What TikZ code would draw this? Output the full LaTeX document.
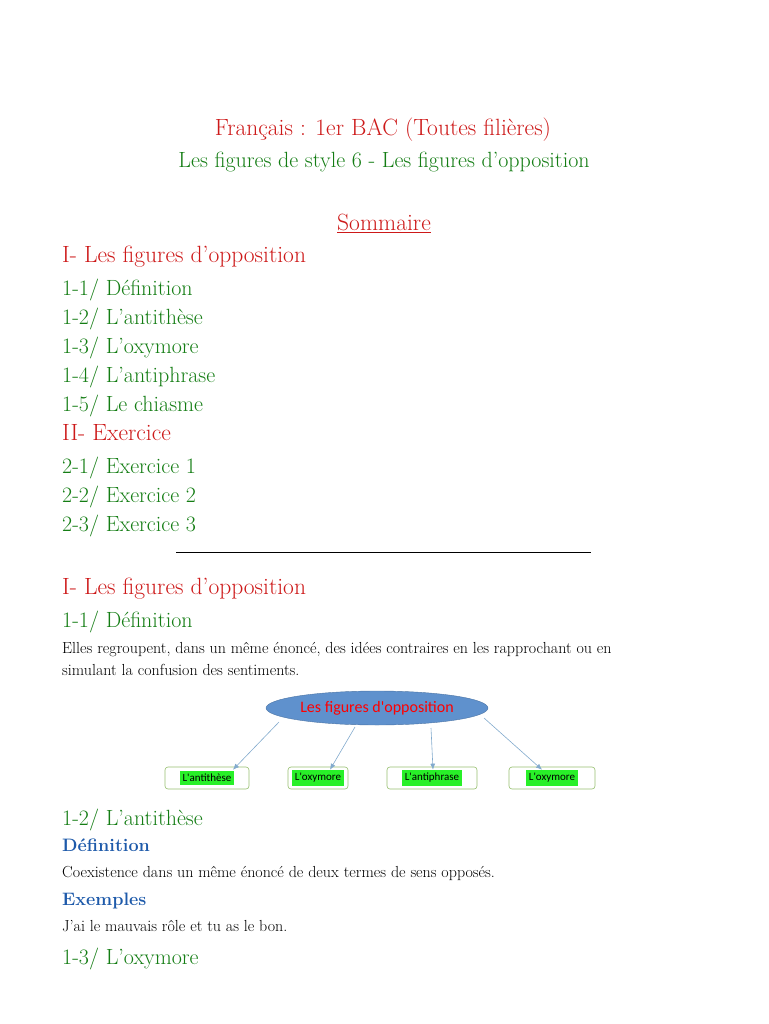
\documentclass[tikz,border=0pt]{standalone}
\usepackage{fontspec}
\newfontfamily\calibri{Carlito}
\usetikzlibrary{shapes.geometric,arrows.meta}
\definecolor{titred}{RGB}{205,25,25}
\definecolor{titgreen}{RGB}{20,125,20}
\definecolor{titblue}{RGB}{30,90,170}
\definecolor{ovalblue}{RGB}{95,145,205}
\definecolor{arrowblue}{RGB}{130,170,205}
\definecolor{boxgreen}{RGB}{150,190,110}
\definecolor{hilite}{RGB}{40,240,40}
\tikzstyle{big} = [anchor=base west, inner sep=0pt, font=\fontsize{23.5}{26}\selectfont]
\tikzstyle{mid} = [anchor=base west, inner sep=0pt, font=\fontsize{22}{24}\selectfont, text=titgreen]
\tikzstyle{body} = [anchor=base west, inner sep=0pt, font=\fontsize{16}{18}\selectfont]
\tikzstyle{fig} = [draw=boxgreen, rounded corners=3pt, minimum height=22pt, line width=0.6pt, font=\calibri\fontsize{11}{12}\selectfont]
\tikzstyle{link} = [draw=arrowblue, -{Latex[length=6pt,width=5pt]}, line width=0.6pt]
\begin{document}
\begin{tikzpicture}[x=1pt,y=-1pt]
\useasboundingbox (0,0) rectangle (768,1024);
% en-tete
\node[big, anchor=base, text=titred] (titre) at (383,136) {Français : 1er BAC (Toutes filières)};
\node[mid, anchor=base] (soustitre) at (384,168) {Les figures de style 6 - Les figures d'opposition};
\node[big, anchor=base, text=titred] (sommaire) at (384,230) {\underline{Sommaire}};
% sommaire
\node[big, text=titred] (s1) at (62,262) {I- Les figures d'opposition};
\node[mid] (s11) at (62,295) {1-1/ Définition};
\node[mid] (s12) at (62,324) {1-2/ L'antithèse};
\node[mid] (s13) at (62,353) {1-3/ L'oxymore};
\node[mid] (s14) at (62,382) {1-4/ L'antiphrase};
\node[mid] (s15) at (62,411) {1-5/ Le chiasme};
\node[big, text=titred] (s2) at (62,440) {II- Exercice};
\node[mid] (s21) at (62,473) {2-1/ Exercice 1};
\node[mid] (s22) at (62,502) {2-2/ Exercice 2};
\node[mid] (s23) at (62,531) {2-3/ Exercice 3};
\draw[line width=0.8pt] (176,552) -- (591,552);
% partie I
\node[big, text=titred] (p1) at (62,594) {I- Les figures d'opposition};
\node[mid] (p11) at (62,627) {1-1/ Définition};
\node[body] (def1) at (62,653) {Elles regroupent, dans un même énoncé, des idées contraires en les rapprochant ou en};
\node[body] (def2) at (62,675) {simulant la confusion des sentiments.};
% schema
\node[ellipse, fill=ovalblue, draw=ovalblue!80!black, minimum width=222pt, minimum height=34pt, inner sep=0pt, text=red, font=\calibri\fontsize{16}{18}\selectfont] (oval) at (377,708) {Les figures d'opposition};
\node[fig, minimum width=84pt] (f1) at (207,778) {\colorbox{hilite}{L'antithèse}};
\node[fig, minimum width=60pt] (f2) at (318,778) {\colorbox{hilite}{L'oxymore}};
\node[fig, minimum width=90pt] (f3) at (432,778) {\colorbox{hilite}{L'antiphrase}};
\node[fig, minimum width=86pt] (f4) at (552,778) {\colorbox{hilite}{L'oxymore}};
\coordinate (o1) at ([shift={(-98,14)}]oval.center);
\coordinate (o2) at ([shift={(-22,19)}]oval.center);
\coordinate (o3) at ([shift={(54,20)}]oval.center);
\coordinate (o4) at ([shift={(107,10)}]oval.center);
\draw[link] (o1) -- ([xshift=26pt,yshift=-3pt]f1.north);
\draw[link] (o2) -- ([xshift=12pt,yshift=-3pt]f2.north);
\draw[link] (o3) -- ([xshift=1pt,yshift=-3pt]f3.north);
\draw[link] (o4) -- ([xshift=-10pt,yshift=-3pt]f4.north);
% antithese
\node[mid] (p12) at (62,825) {1-2/ L'antithèse};
\node[body, font=\bfseries\fontsize{18}{20}\selectfont, text=titblue] (d12) at (62,851) {Définition};
\node[body] (t12) at (62,877) {Coexistence dans un même énoncé de deux termes de sens opposés.};
\node[body, font=\bfseries\fontsize{18}{20}\selectfont, text=titblue] (e12) at (62,905) {Exemples};
\node[body] (x12) at (62,931) {J'ai le mauvais rôle et tu as le bon.};
\node[mid] (p13) at (62,964) {1-3/ L'oxymore};
\end{tikzpicture}
\end{document}
